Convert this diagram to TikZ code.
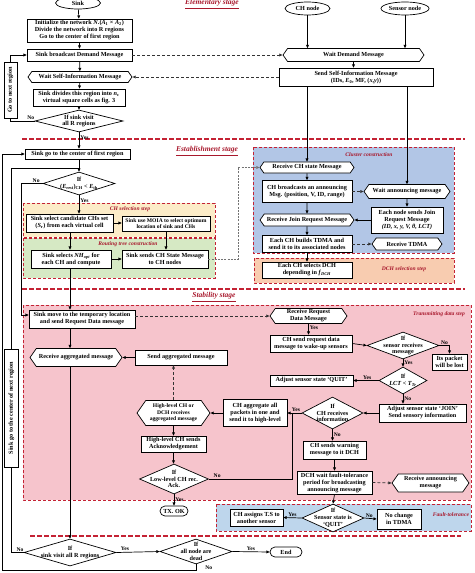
\documentclass[tikz,border=0pt]{standalone}
\usepackage{fontspec}
\setmainfont{Liberation Serif}
\usetikzlibrary{shapes.geometric,shapes.symbols,arrows.meta}
\definecolor{stagered}{RGB}{196,34,52}
\definecolor{titlered}{RGB}{168,24,44}
\definecolor{chyellow}{RGB}{252,236,200}
\definecolor{routegreen}{RGB}{214,233,196}
\definecolor{clusterblue}{RGB}{178,198,230}
\definecolor{dchorange}{RGB}{248,204,176}
\definecolor{txpink}{RGB}{246,196,204}
\definecolor{faultblue}{RGB}{190,214,236}
\newcommand{\vsub}[2]{\textit{#1}\textsubscript{#2}}
\begin{document}
\begin{tikzpicture}[x=1pt,y=-1pt,>={Triangle[length=3.2pt,width=2.8pt]},line width=.7pt,
    box/.style={draw,fill=white,align=center,inner sep=.5pt,font=\bfseries\fontsize{6.2}{7}\selectfont},
    smallbox/.style={font=\bfseries\fontsize{5.6}{6.6}\selectfont},
    hexa/.style={box,signal,signal to=west and east,signal pointer angle=110},
    term/.style={box,ellipse},
    dec/.style={draw,fill=white,diamond,inner sep=0pt},
    dtext/.style={align=center,inner sep=0pt,font=\bfseries\fontsize{6.2}{6.8}\selectfont},
    yn/.style={inner sep=1pt,font=\bfseries\fontsize{5.6}{6}\selectfont},
    dashline/.style={black!80,dash pattern=on 3pt off 2pt},
    dotline/.style={black!55,dash pattern=on 2pt off 1.2pt},
    stageline/.style={stagered,line width=1.1pt,dash pattern=on 4.5pt off 2.5pt},
    region/.style={stagered,line width=.8pt,dash pattern=on 3pt off 2pt},
    stagetitle/.style={text=titlered,font=\bfseries\itshape\fontsize{7.5}{9}\selectfont},
    steptitle/.style={text=titlered,font=\bfseries\itshape\fontsize{5.6}{6.6}\selectfont}]
    \useasboundingbox (0,0) rectangle (474,573);

    \draw[region,fill=chyellow] (23,203) rectangle (215,237);
    \draw[region,fill=routegreen] (23,238) rectangle (215,278);
    \draw[region,fill=clusterblue] (253,147) rectangle (454,253);
    \draw[region,fill=dchorange] (254,258) rectangle (454,283);
    \draw[region,fill=txpink] (23,305) rectangle (471,500);
    \draw[region,fill=faultblue] (216,504) rectangle (471,531);
    \draw[stageline] (22,139) -- (465,139);
    \draw[stageline] (22,289) -- (465,289);
    \draw[stageline] (30,536) -- (461,536);

    \node[stagetitle] (tElem) at (212,4) {\underline{Elementary stage}};
    \node[stagetitle] (tEst) at (207,151) {\underline{Establishment stage}};
    \node[stagetitle] (tStab) at (214,297) {\underline{Stability stage}};
    \node[steptitle] (tCHsel) at (130,209) {CH selection step};
    \node[steptitle] (tRoute) at (128,244) {Routing tree construction};
    \node[steptitle] (tClus) at (369,155) {Cluster construction};
    \node[steptitle] (tDCH) at (404,269) {DCH selection step};
    \node[steptitle] (tTx) at (439,314) {Transmitting data step};
    \node[steptitle] (tFault) at (451,515) {Fault-tolerance};

    \node[term,minimum width=45,minimum height=12] (sink) at (78,3) {Sink};
    \node[box,minimum width=105,minimum height=23] (init) at (79.5,30.5) {Initialize the network \textit{N}.(\vsub{A}{1} × \vsub{A}{2})\\Divide the network into R regions\\Go to the center of first region};
    \node[box,minimum width=105,minimum height=12] (bcast) at (79.5,55) {Sink broadcast Demand Message};
    \node[hexa,minimum width=104,minimum height=11] (waitself) at (80,77) {Wait Self-Information Message};
    \node[box,minimum width=92,minimum height=17] (divide) at (79,97.5) {Sink divides this region into \vsub{n}{c}\\virtual square cells as fig. 3};
    \node[dec,minimum width=88,minimum height=22,label={[dtext]center:{If sink visit\\all R regions}}] (visit1) at (79,121) {};
    \node[box,rotate=90,minimum width=56,minimum height=13] (gonext) at (10.5,90) {Go to next region};
    \node[term,minimum width=45,minimum height=13] (chnode) at (307.5,8.5) {CH node};
    \node[term,minimum width=48,minimum height=13] (sensnode) at (405,8.5) {Sensor node};
    \node[hexa,minimum width=141,minimum height=13] (waitdem) at (353.5,55) {Wait Demand Message};
    \node[box,minimum width=154,minimum height=18] (sendself) at (356,77) {Send Self-Information Message\\(IDs, \vsub{E}{0}, MF, (\textit{x},\textit{y}))};

    \node[box,minimum width=105,minimum height=10] (firstreg) at (77.5,154) {Sink go to the center of first region};
    \node[dec,minimum width=72,minimum height=23,label={[dtext]center:{If\\(\vsub{E}{resi})\textsubscript{CH} < \vsub{E}{th}}}] (eresi) at (79,183.5) {};
    \node[box,minimum width=87,minimum height=18] (cand) at (69.5,223) {Sink select candidate CHs set\\(\vsub{S}{r}) from each virtual cell};
    \node[box,smallbox,minimum width=88,minimum height=15] (moia) at (166,223.5) {Sink use MOIA to select optimum\\location of sink and CHs};
    \node[box,minimum width=80,minimum height=18] (nhopt) at (71,259) {Sink selects \vsub{NH}{\textit{opt}} for\\each CH and compute};
    \node[box,minimum width=86,minimum height=18] (sendst) at (165,259) {Sink sends CH State Message\\to CH nodes};
    \node[hexa,minimum width=94,minimum height=11] (recvch) at (307,167.5) {Receive CH state Message};
    \node[box,minimum width=90,minimum height=22] (bcastann) at (307,191.5) {CH broadcasts an announcing\\Msg. (position, V, ID, range)};
    \node[hexa,minimum width=86,minimum height=14] (waitann) at (407,191.5) {Wait announcing message};
    \node[box,minimum width=72,minimum height=26] (joinsend) at (407,220) {Each node sends Join\\Request Message\\\textit{(ID, x, y, V, θ, LCT)}};
    \node[hexa,minimum width=94,minimum height=12] (joinrecv) at (307,220) {Receive Join Request Message};
    \node[box,minimum width=90,minimum height=17] (tdma) at (307,244) {Each CH builds TDMA and\\send it to its associated nodes};
    \node[hexa,minimum width=70,minimum height=12] (recvtdma) at (407,244) {Receive TDMA};
    \node[box,minimum width=90,minimum height=16] (dch) at (307,270) {Each CH selects DCH\\depending in \vsub{f}{\textit{DCH}}};

    \node[box,minimum width=106,minimum height=18] (sinkmove) at (82,319) {Sink move to the temporary location\\and send Request Data message};
    \node[hexa,minimum width=77,minimum height=15] (recvreq) at (308.5,316) {Receive Request\\Data Message};
    \node[box,minimum width=82,minimum height=17] (chreq) at (311,343.5) {CH send request data\\message to wake-up sensors};
    \node[dec,minimum width=72,minimum height=27,label={[dtext]center:{If\\sensor receives\\message}}] (sensrecv) at (403,345.5) {};
    \node[box,minimum width=35,minimum height=16] (lost) at (449.5,362) {Its packet\\will be lost};
    \node[dec,minimum width=48,minimum height=27,label={[dtext]center:{If\\\textit{LCT} < \vsub{T}{\textit{Tr}}}}] (lct) at (403,380.5) {};
    \node[box,minimum width=83,minimum height=11] (quit) at (311.5,380.5) {Adjust sensor state `QUIT'};
    \node[box,minimum width=87,minimum height=18] (join) at (422.5,413) {Adjust sensor state `JOIN'\\Send sensory information};
    \node[dec,minimum width=61,minimum height=32,label={[dtext]center:{If\\CH receives\\information}}] (chrecv) at (332.5,413) {};
    \node[box,minimum width=64,minimum height=27] (agg) at (255,413) {CH aggregate all\\packets in one and\\send it to high-level};
    \node[hexa,smallbox,minimum width=73,minimum height=25] (highrecv) at (173.5,413) {High-level CH or\\DCH receives\\aggregated message};
    \node[box,minimum width=92,minimum height=15] (sendagg) at (181,357.5) {Send aggregated message};
    \node[hexa,minimum width=92,minimum height=18] (recvagg) at (76,357.5) {Receive aggregated message};
    \node[box,minimum width=65,minimum height=16] (ack) at (173.5,444) {High-level CH sends\\Acknowledgement};
    \node[dec,minimum width=69,minimum height=30,label={[dtext]center:{If\\Low-level CH rec.\\Ack.}}] (lowack) at (174,479) {};
    \node[box,rounded corners=5pt,minimum width=28,minimum height=10] (txok) at (174,511) {TX. OK};
    \node[box,minimum width=63,minimum height=18] (warn) at (334.5,450) {CH sends warning\\message to it DCH};
    \node[box,minimum width=75,minimum height=23] (dchwait) at (334.5,482.5) {DCH wait fault-tolerance\\period for broadcasting\\announcing message};
    \node[hexa,minimum width=77,minimum height=18] (recvann) at (430.5,483) {Receive announcing\\message};
    \node[dec,minimum width=62,minimum height=28,label={[dtext]center:{If\\Sensor state is\\`QUIT'}}] (quitq) at (333,518) {};
    \node[box,minimum width=53,minimum height=17] (assign) at (256.5,517.5) {CH assigns T.S to\\another sensor};
    \node[box,minimum width=44,minimum height=20] (nochange) at (399,519) {No change\\in TDMA};

    \node[dec,minimum width=92,minimum height=27,label={[dtext]center:{If\\sink visit all R regions}}] (visit2) at (70,552.5) {};
    \node[box,rotate=90,minimum width=118,minimum height=14] (snext) at (11.5,408) {Sink go to the center of next region};
    \node[dec,minimum width=72,minimum height=25,label={[dtext]center:{If\\all node are\\dead}}] (dead) at (196,551.5) {};
    \node[box,rounded corners=5pt,minimum width=32,minimum height=10] (endn) at (286,552) {End};

    \coordinate (colA) at (70,0);
    \coordinate (joinA) at (79,168);
    \coordinate (noB) at (21,315);
    \coordinate (bendA) at (238,259);
    \coordinate (backA) at (292,413);
    \coordinate (loopB) at (2,570);

    \draw[->] (sink) -- (init);
    \draw[->] (init) -- (bcast);
    \draw[->] (bcast) -- (waitself);
    \draw[->] (waitself) -- (divide);
    \draw[->] (divide) -- (visit1);
    \draw[->] (visit1.south) -- node[yn,pos=.3,right]{Yes} (visit1.south |- firstreg.north);
    \draw (visit1.west) -| node[yn,pos=.08,above]{No} (gonext.west);
    \draw[->] (gonext.east) |- (bcast.west);
    \draw[->] (chnode) -- (chnode |- waitdem.north);
    \draw[->] (sensnode) -- (sensnode |- waitdem.north);
    \draw[->] (waitdem.south) -- (waitdem.south |- sendself.north);
    \draw[dashline,->] (bcast.east) -- (waitdem.west);
    \draw[dashline,->] (sendself.west) -- (waitself.east);
    \draw[->] (sendself.south -| recvch.north) -- (recvch.north);
    \draw[->] (sendself.south -| waitann.north) -- (waitann.north);

    \draw[->] (firstreg.south -| eresi.north) -- (eresi.north);
    \draw (snext.east) |- (joinA);
    \draw[->] (eresi.south) -- node[yn,pos=.3,right]{Yes} (eresi.south |- cand.north);
    \draw[->] (eresi.west) -| node[yn,pos=.15,above]{No} (noB) -- (noB -| sinkmove.west);
    \draw[->] (cand.east) -- (cand.east -| moia.west);
    \draw[->] (cand.south -| colA) -- (nhopt.north -| colA);
    \draw[->] (moia.south) -- (moia.south |- sendst.north);
    \draw[->] (nhopt.east) -- (sendst.west);
    \draw[dotline,->] (sendst.east) -- (bendA) |- (recvch.west);
    \draw[->] (recvch) -- (bcastann);
    \draw[->] (bcastann) -- (joinrecv);
    \draw[->] (joinrecv) -- (tdma);
    \draw[->] (tdma) -- (dch);
    \draw[dashline,->] (bcastann.east) -- (waitann.west);
    \draw[->] (waitann) -- (joinsend);
    \draw[->] (joinsend.west) -- (joinrecv.east);
    \draw[dashline,->] (tdma.east) -- (recvtdma.west);

    \draw[->] (nhopt.south -| colA) -- (sinkmove.north -| colA);
    \draw[dashline,->] (sinkmove.east |- recvreq.west) -- (recvreq.west);
    \draw[->] (sinkmove.south -| colA) -- (recvagg.north -| colA);
    \draw[->] (recvagg.south -| colA) -- (visit2.north);
    \draw[->] (recvreq.south) -- node[yn,pos=.4,right]{Yes} (recvreq.south |- chreq.north);
    \draw[->] (chreq.east) -- (sensrecv.west);
    \draw[->] (sensrecv.east) -| node[yn,pos=.25,above]{No} (lost.north);
    \draw[->] (sensrecv.south) -- node[yn,pos=.5,right]{Yes} (lct.north);
    \draw[->] (lct.west) -- node[yn,pos=.45,above]{Yes} (quit.east);
    \draw[->] (lct.south) -- node[yn,pos=.5,right]{No} (lct.south |- join.north);
    \draw[->] (join.west) -- (chrecv.east);
    \draw[->] (chrecv.west) -- node[yn,pos=.4,above]{Yes} (agg.east);
    \draw (lowack.east) -| node[yn,pos=.05,above]{No} (backA);
    \draw[->] (agg.west) -- (highrecv.east);
    \draw[dashline,->] (highrecv.north) -- (highrecv.north |- sendagg.south);
    \draw[->] (sendagg.west) -- (recvagg.east);
    \draw[->] (highrecv.south) -- (highrecv.south |- ack.north);
    \draw[->] (ack.south) -- (ack.south |- lowack.north);
    \draw[->] (lowack.south) -- node[yn,pos=.5,right]{Yes} (txok.north);
    \draw[->] (chrecv.south) -- node[yn,pos=.5,right]{No} (chrecv.south |- warn.north);
    \draw[->] (warn) -- (dchwait);
    \draw[dashline,->] (dchwait.east) -- (recvann.west);
    \draw[->] (dchwait.south) -- (quitq.north);
    \draw[->] (quitq.west) -- node[yn,pos=.5,above]{Yes} (assign.east);
    \draw[->] (quitq.east) -- node[yn,pos=.4,above]{No} (nochange.west);

    \draw (visit2.west) -| node[yn,pos=.15,above]{No} (snext.west);
    \draw[->] (visit2.east) -- node[yn,pos=.2,above]{Yes} (dead.west);
    \draw[->] (dead.east) -- node[yn,pos=.5,above]{Yes} (endn.west);
    \draw[->] (dead.south) |- node[yn,pos=0,anchor=north west,xshift=8pt]{No} (loopB) |- (firstreg.west);
\end{tikzpicture}
\end{document}
